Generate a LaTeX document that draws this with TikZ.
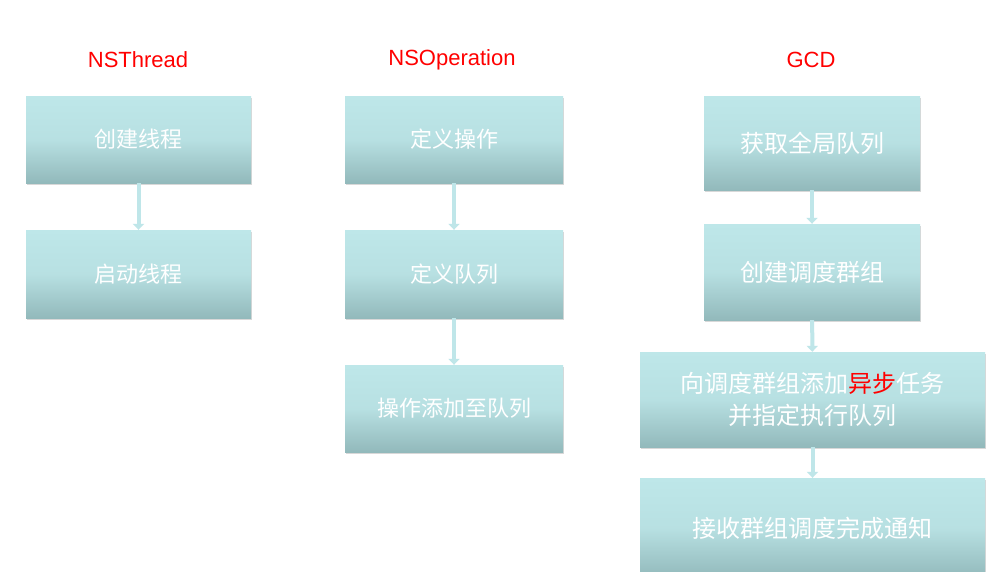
\documentclass[tikz,border=0pt]{standalone}
\usepackage{fontspec}
\setmainfont{Liberation Sans}
\newfontfamily\cjk{Noto Sans CJK SC}
\usetikzlibrary{arrows.meta,shadows}
\definecolor{boxtop}{HTML}{BEE7E9}
\definecolor{boxbot}{HTML}{92B9BB}
\definecolor{arr}{HTML}{BFE6E9}
\tikzset{
 box/.style={draw=none,top color=boxtop,bottom color=boxbot,middle color=boxtop!85!boxbot,
   text=white,font=\cjk\fontsize{22}{28}\selectfont,align=center,inner sep=0pt,
   drop shadow={shadow xshift=1pt,shadow yshift=-2pt,opacity=0.3}},
 ttl/.style={text=red,font=\fontsize{22}{26}\selectfont},
 con/.style={arr,line width=4pt,-{Triangle[length=6pt,width=11pt]}}
}
\begin{document}
\begin{tikzpicture}[x=1pt,y=-1pt]
\useasboundingbox[fill=white] (0,0) rectangle (987,571);
\node[ttl] (t1) at (138,60) {NSThread};
\node[ttl] (t2) at (452,60) {NSOperation};
\node[ttl] (t3) at (811,60) {GCD};
\node[box,minimum width=225pt,minimum height=87pt] (a1) at (138.5,139.5) {创建线程};
\node[box,minimum width=225pt,minimum height=88pt] (a2) at (138.5,274) {启动线程};
\node[box,minimum width=218pt,minimum height=87pt] (b1) at (454,139.5) {定义操作};
\node[box,minimum width=218pt,minimum height=88pt] (b2) at (454,274) {定义队列};
\node[box,minimum width=218pt,minimum height=87pt] (b3) at (454,408.5) {操作添加至队列};
\node[box,minimum width=216pt,minimum height=94pt,font=\cjk\fontsize{24}{32}\selectfont] (c1) at (812,143) {获取全局队列};
\node[box,minimum width=216pt,minimum height=96pt,font=\cjk\fontsize{24}{32}\selectfont] (c2) at (812,272) {创建调度群组};
\node[box,minimum width=345pt,minimum height=95pt,font=\cjk\fontsize{24}{32}\selectfont] (c3) at (812.5,399.5) {向调度群组添加\textcolor{red}{异步}任务\\并指定执行队列};
\node[box,minimum width=345pt,minimum height=100pt,font=\cjk\fontsize{24}{32}\selectfont] (c4) at (812.5,528) {接收群组调度完成通知};
\draw[con] (a1) -- (a2);
\draw[con] (b1) -- (b2);
\draw[con] (b2.south -| 454,0) ++(0,0) -- (b3);
\draw[con] (c1) -- (c2);
\draw[con] (c2) -- (c3);
\draw[con] (c3) -- (c4);
\end{tikzpicture}
\end{document}
